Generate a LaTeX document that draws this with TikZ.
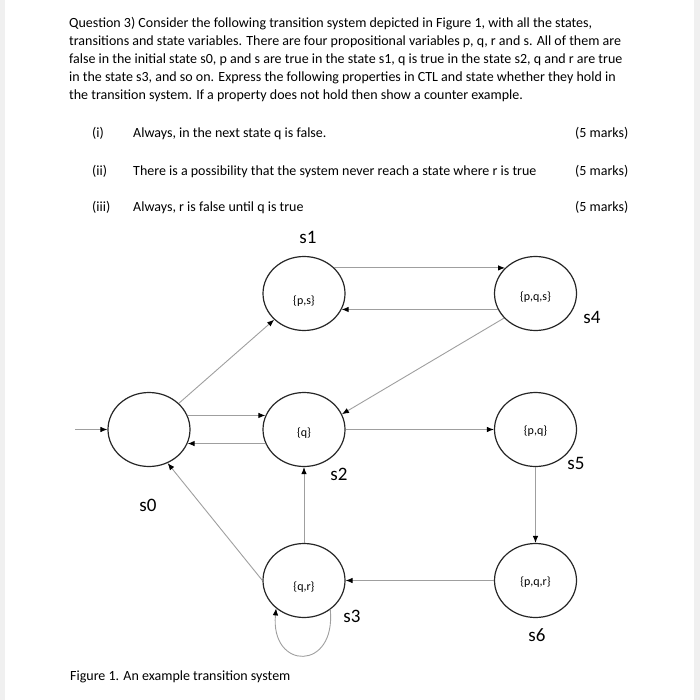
\documentclass[tikz,border=0pt]{standalone}
\usepackage{fontspec}
\setmainfont{Carlito}
\usetikzlibrary{shapes.geometric,arrows.meta}

\begin{document}
\begin{tikzpicture}[x=1pt,y=-1pt, >={Latex[length=7pt,width=5.5pt,color=black]},
  state/.style={draw=black!85,line width=1.2pt,ellipse,minimum width=82pt,minimum height=74pt,inner sep=0pt,
    text height=0pt,text depth=0pt,font=\fontsize{12}{14}\selectfont},
  trans/.style={->,draw=gray!75,line width=0.9pt},
  slabel/.style={font=\fontsize{19}{22}\selectfont,inner sep=0pt},
  txt/.style={font=\fontsize{14}{18.1}\selectfont,inner sep=0pt}]
\useasboundingbox (0,0) rectangle (700,700);
% page edges
\fill[gray!12] (0,0) rectangle (5,700);
\fill[gray!12] (694,0) rectangle (700,700);
% question
\node[txt,anchor=north west,align=left] (intro) at (69,17) {Question 3) Consider the following transition system depicted in Figure 1, with all the states,\\
transitions and state variables. There are four propositional variables p, q, r and s. All of them are\\
false in the initial state s0, p and s are true in the state s1, q is true in the state s2, q and r are true\\
in the state s3, and so on. Express the following properties in CTL and state whether they hold in\\
the transition system. If a property does not hold then show a counter example.};
\foreach \y/\n/\t in {138/(i)/{Always, in the next state q is false.},
  176/(ii)/{There is a possibility that the system never reach a state where r is true},
  212/(iii)/{Always, r is false until q is true}} {
  \node[txt,anchor=base west] (num\y) at (92,\y) {\n};
  \node[txt,anchor=base west] (prop\y) at (133,\y) {\t};
  \node[txt,anchor=base west] (mark\y) at (575,\y) {(5 marks)};
}
% states
\node[state] (s0) at (149,429.5) {};
\node[state] (s1) at (304,293.5) {\raisebox{-11pt}{\{p,s\}}};
\node[state] (s2) at (304,429.5) {\raisebox{-6.5pt}{\{q\}}};
\node[state] (s3) at (304,580.5) {\raisebox{-10pt}{\{q,r\}}};
\node[state] (s4) at (535.5,293.5) {\raisebox{-7pt}{\{p,q,s\}}};
\node[state] (s5) at (535.5,429.5) {\raisebox{-4.5pt}{\{p,q\}}};
\node[state] (s6) at (535.5,580.5) {\raisebox{-5pt}{\{p,q,r\}}};
\foreach \n/\x/\y in {0/148/505,1/308/237,2/339/474,3/352/616,4/592/317,5/576/463,6/537/635}
  \node[slabel] (l\n) at (\x,\y) {s\n};
% transitions
\coordinate (init) at (75,429.5);
\draw[trans] (init) -- (s0);
\draw[trans] (s0) -- (s1);
\draw[trans] (s1.40) -- (s4.140);
\draw[trans] (s4.203) -- (s1.337);
\draw[trans] (s4.218) -- (s2.22);
\draw[trans] (s0.20) -- (s2.160);
\draw[trans] (s2.200) -- (s0.340);
\draw[trans] (s2) -- (s5);
\draw[trans] (s5) -- (s6);
\draw[trans] (s6) -- (s3);
\draw[trans] (s3) -- (s2);
\draw[trans] (s3.180) -- (s0.299);
\draw[trans] (s3.312) .. controls +(6,62) and +(-6,62) .. (s3.225);
% caption
\node[txt,anchor=base west] (cap) at (70,680) {Figure 1. An example transition system};
\end{tikzpicture}
\end{document}
